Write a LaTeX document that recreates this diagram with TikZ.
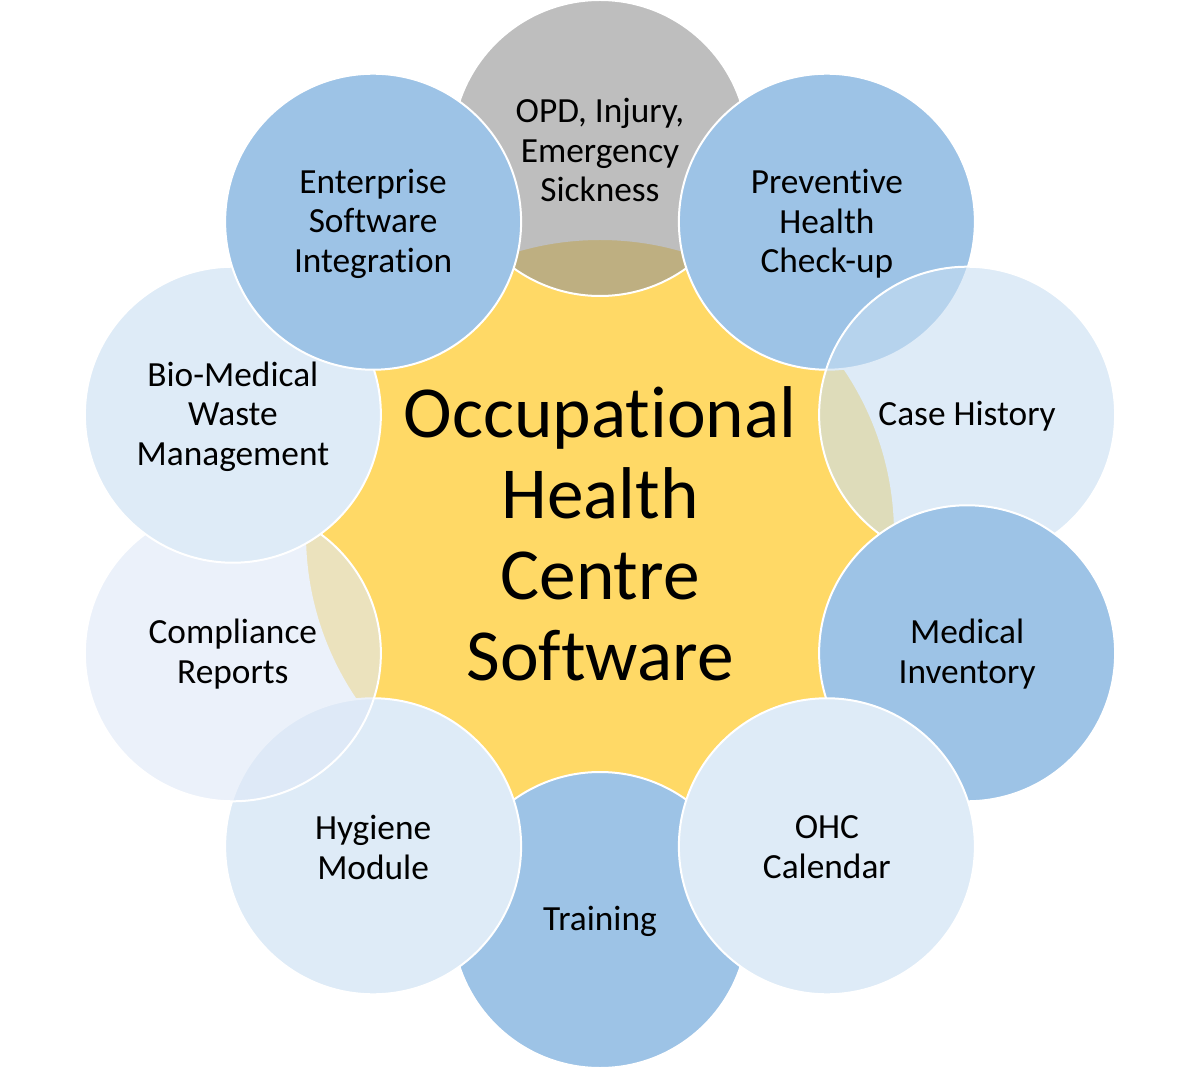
\documentclass[tikz,border=0pt]{standalone}
\usepackage{fontspec}
\setmainfont{Carlito}[Ligatures={NoCommon}]
\usetikzlibrary{calc}
\definecolor{ohcyellow}{HTML}{FFD966}
\definecolor{ohcdark}{HTML}{9DC3E6}
\definecolor{ohclight}{HTML}{DEEBF7}
\definecolor{ohccase}{HTML}{C8DEF2}
\definecolor{ohccomp}{HTML}{DEE8F7}
\definecolor{ohcgray}{HTML}{949494}
\begin{document}
\begin{tikzpicture}[x=0.75pt,y=0.75pt,
  bub/.style={circle, draw=white, line width=1.5pt, minimum size=222pt, inner sep=0pt, outer sep=0pt},
  seethru/.style={fill opacity=0.6},
  lbl/.style={align=center, inner sep=0pt, text=black, font=\fontsize{26.5}{29.6}\selectfont},
  hubtext/.style={align=center, inner sep=0pt, text=black, font=\fontsize{55}{60.75}\selectfont}]
\useasboundingbox[fill=white] (-600,-540) rectangle (584,534);
% central circle
\node[bub, fill=ohcyellow, minimum size=442.5pt] (hub) at (0,0) {};
% outer circles (drawing order matters)
\node[bub, fill=ohcgray, seethru] (c0) at (90:386) {};
\node[bub, fill=ohcdark] (c1) at (54:386) {};
\node[bub, fill=ohccase, seethru] (c2) at (18:386) {};
\node[bub, fill=ohcdark] (c3) at (-18:386) {};
\node[bub, fill=ohcdark] (c5) at (-90:386) {};
\node[bub, fill=ohclight] (c4) at (-54:386) {};
\node[bub, fill=ohclight] (c6) at (-126:386) {};
\node[bub, fill=ohccomp, seethru] (c7) at (-162:386) {};
\node[bub, fill=ohclight] (c8) at (162:386) {};
\node[bub, fill=ohcdark] (c9) at (126:386) {};
% labels
\node[hubtext] (title) at (0,0) {Occupational\\Health\\Centre\\Software};
\node[lbl] (t0) at ($(c0)+(0,-2)$) {OPD, Injury,\\Emergency\\Sickness};
\node[lbl] (t1) at ($(c1)+(0,-2)$) {Preventive\\Health\\Check-up};
\node[lbl] (t2) at ($(c2)+(0,-1)$) {Case History};
\node[lbl] (t3) at ($(c3)+(0,-1)$) {Medical\\Inventory};
\node[lbl] (t4) at ($(c4)+(0,-1)$) {OHC\\Calendar};
\node[lbl] (t5) at ($(c5)+(0,-1)$) {Training};
\node[lbl] (t6) at ($(c6)+(0,-1)$) {Hygiene\\Module};
\node[lbl] (t7) at ($(c7)+(0,-1)$) {Compliance\\Reports};
\node[lbl] (t8) at ($(c8)+(0,-2)$) {Bio-Medical\\Waste\\Management};
\node[lbl] (t9) at ($(c9)+(0,-2)$) {Enterprise\\Software\\Integration};
\end{tikzpicture}
\end{document}
